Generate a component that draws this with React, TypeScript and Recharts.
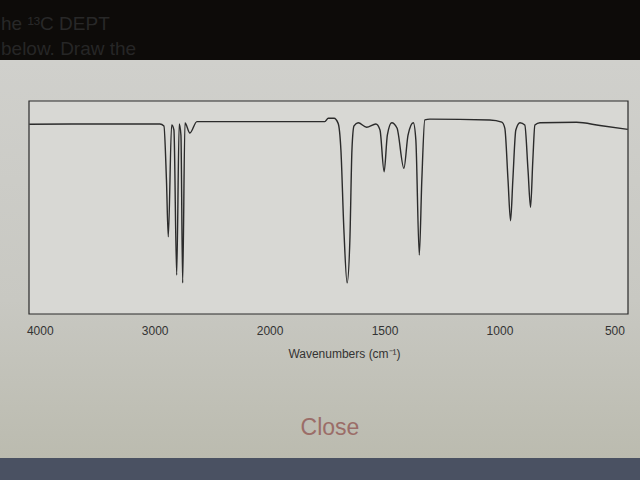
import React from 'react';
import { LineChart, Line, XAxis, YAxis, ReferenceArea, Label } from 'recharts';

// IR spectrum: wavenumber (cm^-1) and % transmittance
const WAVENUMBERS = [
  4095, 3481, 2959, 2924, 2902, 2886, 2857, 2837, 2813, 2791,
  2776, 2761, 2741, 2698, 2637, 2088, 1762, 1747, 1722, 1704,
  1692, 1679, 1665, 1653, 1644, 1635, 1617, 1580, 1540, 1522,
  1504, 1490, 1471, 1448, 1418, 1400, 1377, 1366, 1351, 1340,
  1327, 1305, 1044, 992, 979, 965, 954, 944, 931, 913,
  892, 878, 867, 857, 848, 826, 667, 565, 444,
];
const TRANSMITTANCE = [
  89.1, 89.2, 89.2, 88.3, 62.9, 36.2, 88.7, 86.4, 18.3, 89.2,
  84.0, 14.6, 89.7, 85.0, 90.3, 90.3, 90.3, 91.9, 91.9, 89.5,
  77.0, 39.4, 14.6, 34.7, 77.0, 88.3, 89.8, 87.7, 89.2, 86.4,
  66.8, 84.0, 89.8, 87.3, 68.4, 84.0, 89.8, 81.7, 27.7, 62.9,
  91.1, 91.5, 91.1, 90.1, 87.3, 62.9, 43.8, 62.9, 86.4, 89.8,
  88.7, 67.6, 50.1, 72.3, 88.7, 89.8, 90.0, 88.5, 86.7,
];
const TICK_WAVENUMBERS = [4000, 3000, 2000, 1500, 1000, 500];
const DOMAIN_WAVENUMBERS = [4098, 443];

// Standard IR axis: 1000 cm^-1 per unit above 2000, 500 cm^-1 per unit below
const toPos = (w: number) => (w >= 2000 ? (4000 - w) / 1000 : 2 + (2000 - w) / 500);
const fromPos = (p: number) => (p <= 2 ? 4000 - 1000 * p : 2000 - 500 * (p - 2));

const data = WAVENUMBERS.map((w, i) => ({ pos: toPos(w), t: TRANSMITTANCE[i] }));
const X_MIN = toPos(DOMAIN_WAVENUMBERS[0]);
const X_MAX = toPos(DOMAIN_WAVENUMBERS[1]);
const TICKS = TICK_WAVENUMBERS.map(toPos);

export default function App() {
  return (
    <div
      style={{
        position: 'fixed',
        left: 0,
        top: 0,
        width: 640,
        height: 480,
        overflow: 'hidden',
        background: 'linear-gradient(to bottom, #d0d0cc 60px, #c8c8c2 300px, #bbbbaf 458px)',
        fontFamily: '"Liberation Sans", Arial, sans-serif',
      }}
    >
      <div style={{ position: 'absolute', left: 0, top: 0, width: 640, height: 60, background: '#0d0b09' }} />
      <div style={{ position: 'absolute', left: 1, top: 13, fontSize: 19, color: '#282828' }}>he ¹³C DEPT</div>
      <div style={{ position: 'absolute', left: 1, top: 38, fontSize: 19, color: '#262626' }}>below. Draw the</div>
      <div style={{ position: 'absolute', left: 0, top: 0 }}>
        <LineChart width={640} height={420} data={data} margin={{ top: 101, right: 12, bottom: 0, left: 29 }}>
          <XAxis
            type="number"
            dataKey="pos"
            domain={[X_MIN, X_MAX]}
            allowDataOverflow
            ticks={TICKS}
            interval={0}
            tickFormatter={(p: number) => String(Math.round(fromPos(p)))}
            axisLine={false}
            tickLine={false}
            tickSize={0}
            tickMargin={12}
            height={106}
            tick={{ fill: '#333', fontSize: 12 }}
          >
            <Label value="Wavenumbers (cm⁻¹)" position="insideBottom" offset={62} dx={16} fill="#333" fontSize={12} />
          </XAxis>
          <YAxis type="number" domain={[0, 100]} hide />
          <ReferenceArea
            x1={X_MIN}
            x2={X_MAX}
            y1={0}
            y2={100}
            fill="#d8d8d4"
            fillOpacity={1}
            stroke="#2a2a2a"
            strokeWidth={1.2}
          />
          <Line
            type="monotone"
            dataKey="t"
            stroke="#2b2b2b"
            strokeWidth={1.4}
            dot={false}
            isAnimationActive={false}
          />
        </LineChart>
      </div>
      <div
        style={{
          position: 'absolute',
          left: 230,
          width: 200,
          textAlign: 'center',
          top: 414,
          fontSize: 23,
          color: '#9b6d68',
        }}
      >
        Close
      </div>
      <div style={{ position: 'absolute', left: 0, top: 458, width: 640, height: 22, background: '#4a5162' }} />
    </div>
  );
}
